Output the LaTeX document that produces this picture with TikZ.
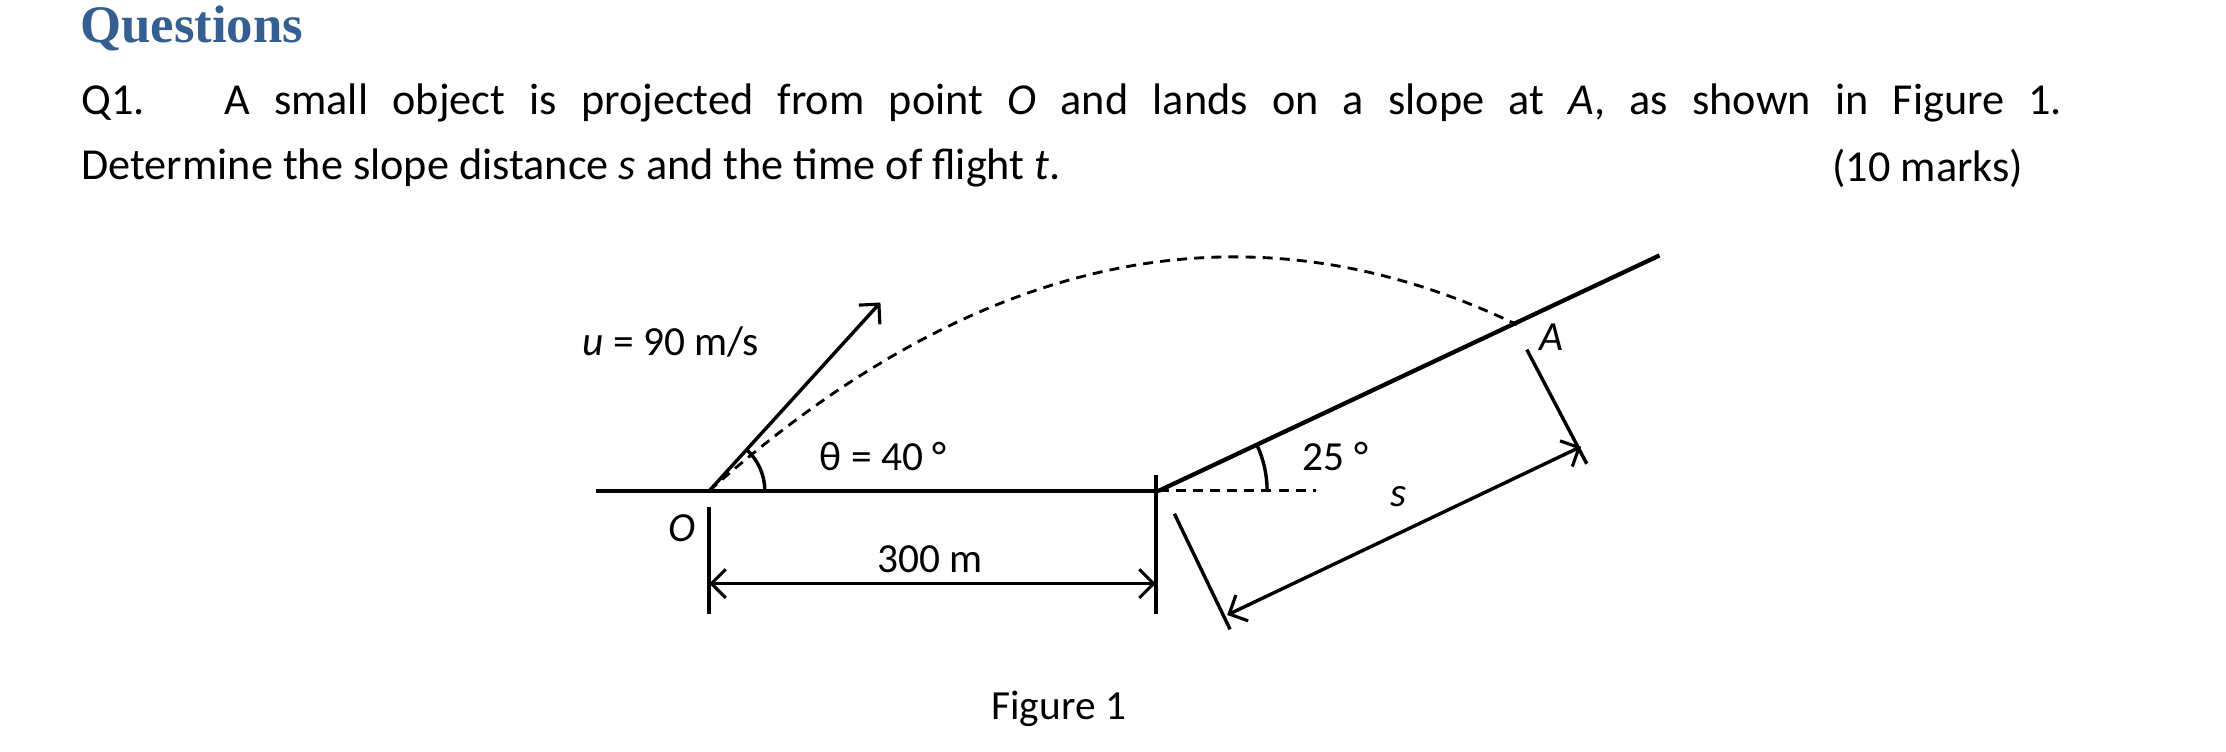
\documentclass[tikz,border=0pt]{standalone}
\usepackage{fontspec}
\usetikzlibrary{arrows.meta,calc}
\setmainfont{Carlito}
\newfontfamily\titlefont{Liberation Serif}
\definecolor{qblue}{RGB}{54,95,145}
\begin{document}
\begin{tikzpicture}[x=1pt,y=-1pt,
  ln/.style={line width=3pt},
  thin/.style={line width=2.4pt},
  dsh/.style={line width=2pt,dash pattern=on 7pt off 5pt},
  barb/.tip={Straight Barb[length=10pt,width=20pt,line width=2.2pt]},
  lab/.style={font=\fontsize{29}{33}\selectfont,inner sep=0pt},
  txt/.style={font=\fontsize{31}{36}\selectfont,inner sep=0pt}]
\useasboundingbox (0,0) rectangle (1560,527);
\node[anchor=west,inner sep=0pt,font=\titlefont\bfseries\fontsize{37}{40}\selectfont,text=qblue] (title) at (56,20) {Questions};
\node[txt,anchor=west] (q1) at (57,72) {Q1.};
\node[txt,anchor=west] (l1) at (157,72) {\makebox[1288pt][s]{A small object is projected from point \textit{O} and lands on a slope at \textit{A}, as shown in Figure 1.}};
\node[txt,anchor=west] (l2) at (57,118) {Determine the slope distance \textit{s} and the time of flight \textit{t}.};
\node[txt,anchor=east] (marks) at (1418,118) {(10 marks)};
% geometry
\coordinate (L) at (418,344);
\coordinate (O) at (497,344);
\coordinate (B) at (812,344);
\coordinate (T) at (1163,179);
\coordinate (U) at (617,212);
\draw[ln] (L) -- (B);
\draw[ln] (B) -- (T);
\draw[thin,-barb] (O) -- (U);
\draw[dsh] plot[domain=497:1063,samples=60] (\x,{344-164*(1-((\x-865)/368)^2)});
\draw[dsh] (B) -- (922,344);
\draw[thin] ($(O)+(39,0)$) arc[start angle=0,end angle=-47,radius=39];
\draw[thin] ($(B)+(76,0)$) arc[start angle=0,end angle=-25,radius=76];
% dimension 300 m
\coordinate (d1a) at (497,355); \coordinate (d1b) at (497,430);
\coordinate (d2a) at (810,333); \coordinate (d2b) at (810,430);
\draw[thin] (d1a) -- (d1b);
\draw[thin] (d2a) -- (d2b);
\coordinate (h1) at (497,409); \coordinate (h2) at (810,409);
\draw[thin,barb-barb] (h1) -- (h2);
% dimension s
\coordinate (p1a) at (1070,245); \coordinate (p1b) at (1112,325);
\coordinate (p2a) at (823,360); \coordinate (p2b) at (862,441);
\draw[thin] (p1a) -- (p1b);
\draw[thin] (p2a) -- (p2b);
\coordinate (s1) at (860,431); \coordinate (s2) at (1108,313);
\draw[thin,barb-barb] (s1) -- (s2);
% labels
\node[lab] (ul) at (470,240) {\textit{u} = 90 m/s};
\node[lab] (th) at (619,320) {θ = 40 °};
\node[lab] (an) at (936,320) {25 °};
\node[lab] (sl) at (980,348) {\textit{s}};
\node[lab] (Ol) at (478,370) {\textit{O}};
\node[lab] (Al) at (1087,236) {\textit{A}};
\node[lab] (dl) at (652,392) {300 m};
\node[lab] (fig) at (742,497) {Figure 1};
\end{tikzpicture}
\end{document}
